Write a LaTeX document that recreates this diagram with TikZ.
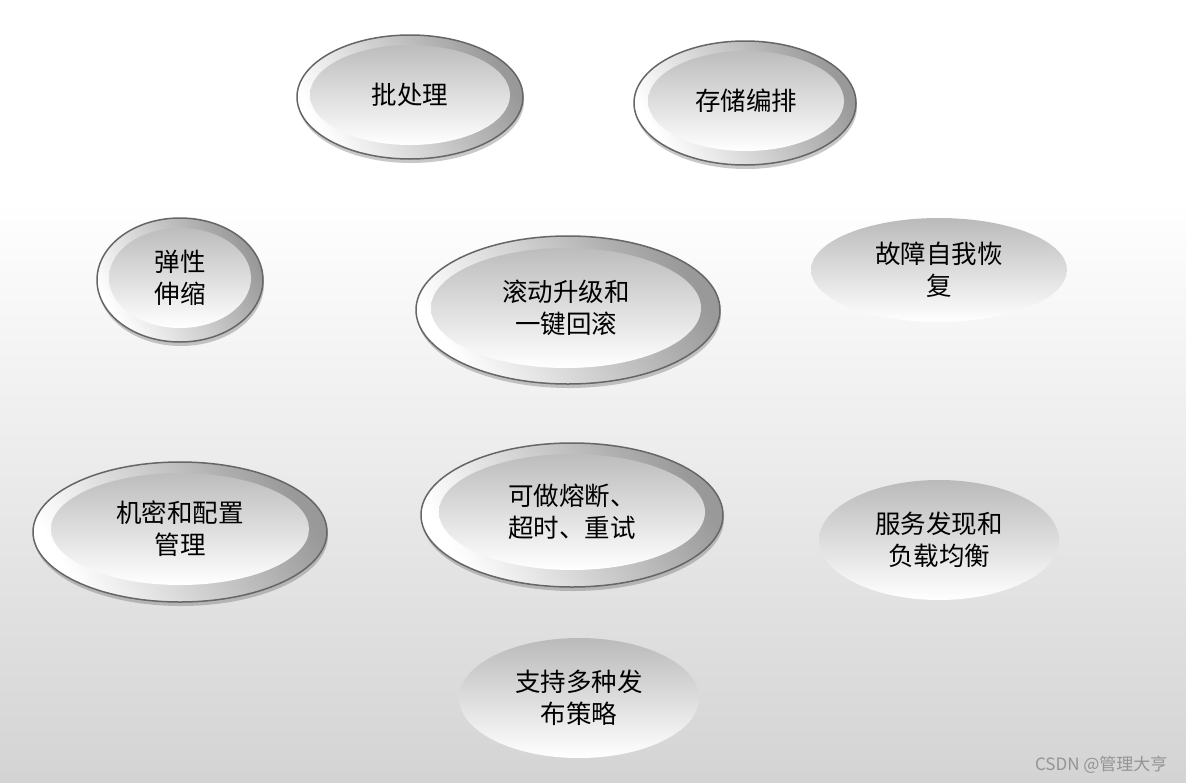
\documentclass[tikz,border=0pt]{standalone}
\usepackage{fontspec}
\newfontfamily\cjk{Noto Sans CJK SC}
\usetikzlibrary{shapes.geometric,shadows}
\begin{document}
\begin{tikzpicture}[x=1pt,y=-1pt,
  outerell/.style={ellipse, inner sep=0pt, draw=black!60, line width=1.5pt,
    top color=black!40, bottom color=white, shading angle=-60,
    drop shadow={shadow xshift=1pt, shadow yshift=-4pt, opacity=0.3, fill=black!70}},
  innerell/.style={ellipse, inner sep=0pt, top color=black!26, bottom color=white,
    font=\cjk\fontsize{25.5}{32}\selectfont, align=center, text=black},
  flatell/.style={ellipse, inner sep=0pt, top color=black!27, bottom color=white,
    font=\cjk\fontsize{25.5}{32}\selectfont, align=center, text=black},
  mark text/.style={font=\cjk\fontsize{17}{17}\selectfont, text=black!42}
]
\useasboundingbox (0,0) rectangle (1186,782);
\fill[white] (0,0) rectangle (1186,200);
\shade[top color=white, bottom color=black!17] (0,200) rectangle (1186,782);

% bevelled ellipses
\node[outerell, minimum width=226pt, minimum height=124pt] (batcho) at (410,97) {};
\node[innerell, minimum width=200pt, minimum height=100pt] (batch) at (410,95) {批处理};

\node[outerell, minimum width=222pt, minimum height=124pt] (storeo) at (745,103) {};
\node[innerell, minimum width=196pt, minimum height=100pt] (store) at (746,101) {存储编排};

\node[outerell, minimum width=166pt, minimum height=124pt] (elastico) at (180,280) {};
\node[innerell, minimum width=142pt, minimum height=100pt] (elastic) at (180,278) {弹性\\伸缩};

\node[outerell, minimum width=304pt, minimum height=148pt] (rollo) at (568,310) {};
\node[innerell, minimum width=270pt, minimum height=120pt] (roll) at (566,308) {滚动升级和\\一键回滚};

\node[outerell, minimum width=294pt, minimum height=140pt] (secreto) at (180,532) {};
\node[innerell, minimum width=258pt, minimum height=112pt] (secret) at (180,529) {机密和配置\\管理};

\node[outerell, minimum width=302pt, minimum height=144pt] (fuseo) at (572,515) {};
\node[innerell, minimum width=266pt, minimum height=116pt] (fuse) at (572,512) {可做熔断、\\超时、重试};

% flat ellipses
\node[flatell, minimum width=256pt, minimum height=104pt] (heal) at (939,270) {故障自我恢\\复};
\node[flatell, minimum width=240pt, minimum height=120pt] (discover) at (939,540) {服务发现和\\负载均衡};
\node[flatell, minimum width=240pt, minimum height=120pt] (release) at (579,698) {支持多种发\\布策略};

\node[mark text, anchor=east] (wm) at (1171,765) {CSDN @管理大亨};
\end{tikzpicture}
\end{document}
